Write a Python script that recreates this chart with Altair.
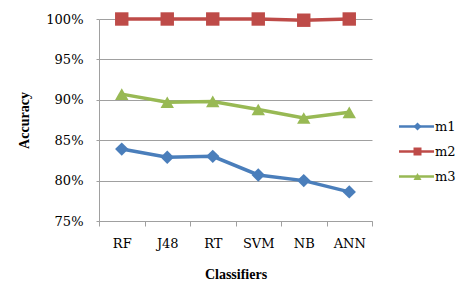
import altair as alt
import pandas as pd

classifiers = ["RF", "J48", "RT", "SVM", "NB", "ANN"]
series = ["m1", "m2", "m3"]
m1 = [83.9, 82.9, 83.0, 80.7, 80.0, 78.6]
m2 = [100.0, 100.0, 100.0, 100.0, 99.85, 100.0]
m3 = [90.7, 89.7, 89.8, 88.8, 87.75, 88.45]
colors = ["#4A7EBB", "#BE4B48", "#98B954"]
shapes = ["diamond", "square", "triangle-up"]

rows = []
for name, vals in zip(series, [m1, m2, m3]):
    for c, v in zip(classifiers, vals):
        rows.append({"Classifiers": c, "Accuracy": v, "series": name})
df = pd.DataFrame(rows)

FONT = "DejaVu Serif"
TFONT = "Liberation Serif"
GRAY = "#A0A0A0"

x_enc = alt.X(
    "Classifiers:N",
    sort=classifiers,
    scale=alt.Scale(type="band", paddingInner=0, paddingOuter=0),
    bandPosition=0.5,
    axis=alt.Axis(
        title="Classifiers", tickBand="extent", labelAngle=0, tickSize=5,
        tickColor=GRAY, domainColor=GRAY, grid=False, labelPadding=11,
        titlePadding=17,
    ),
)
y_enc = alt.Y(
    "Accuracy:Q",
    scale=alt.Scale(domain=[75, 100], nice=False, zero=False),
    axis=alt.Axis(
        title="Accuracy", values=[75, 80, 85, 90, 95, 100],
        labelExpr="datum.value + '%'", tickSize=3, tickColor=GRAY,
        domainColor=GRAY, gridColor=GRAY, gridWidth=1, labelPadding=13,
        titlePadding=14,
    ),
)

base = alt.Chart(df).encode(x=x_enc, y=y_enc)

lines = base.mark_line(strokeWidth=3.5).encode(
    stroke=alt.Stroke(
        "series:N",
        scale=alt.Scale(domain=series, range=colors),
        legend=alt.Legend(
            title=None, orient="none", legendX=301, legendY=101, padding=0,
            symbolType="M-3.5,0L3.5,0", symbolSize=100, symbolStrokeWidth=2.5,
            symbolOffset=10, labelOffset=12, rowPadding=11,
        ),
    ),
    detail="series:N",
)

pt_legend = alt.Legend(
    title=None, orient="none", legendX=301, legendY=101, padding=0,
    symbolSize=64, symbolStrokeWidth=0, symbolOffset=11,
    labelOffset=12, rowPadding=11, labelOpacity=0,
)

points = base.mark_point(filled=True, opacity=1, size=180).encode(
    color=alt.Color("series:N", scale=alt.Scale(range=colors), legend=pt_legend),
    shape=alt.Shape("series:N", scale=alt.Scale(range=shapes), legend=pt_legend),
)

chart = (
    alt.layer(lines, points)
    .properties(
        width=273, height=202,
        autosize=alt.AutoSizeParams(type="none"),
        padding={"left": 99, "top": 19, "right": 102, "bottom": 83},
        background="white",
    )
    .configure_view(stroke=None)
    .configure_axis(
        labelFont=FONT, labelFontSize=13, labelColor="black",
        titleFont=TFONT, titleFontSize=14, titleFontWeight="bold", titleColor="black",
    )
    .configure_legend(labelFont=FONT, labelFontSize=13, labelColor="black")
)

chart.save("out.html", embed_options={"renderer": "svg", "actions": False})
